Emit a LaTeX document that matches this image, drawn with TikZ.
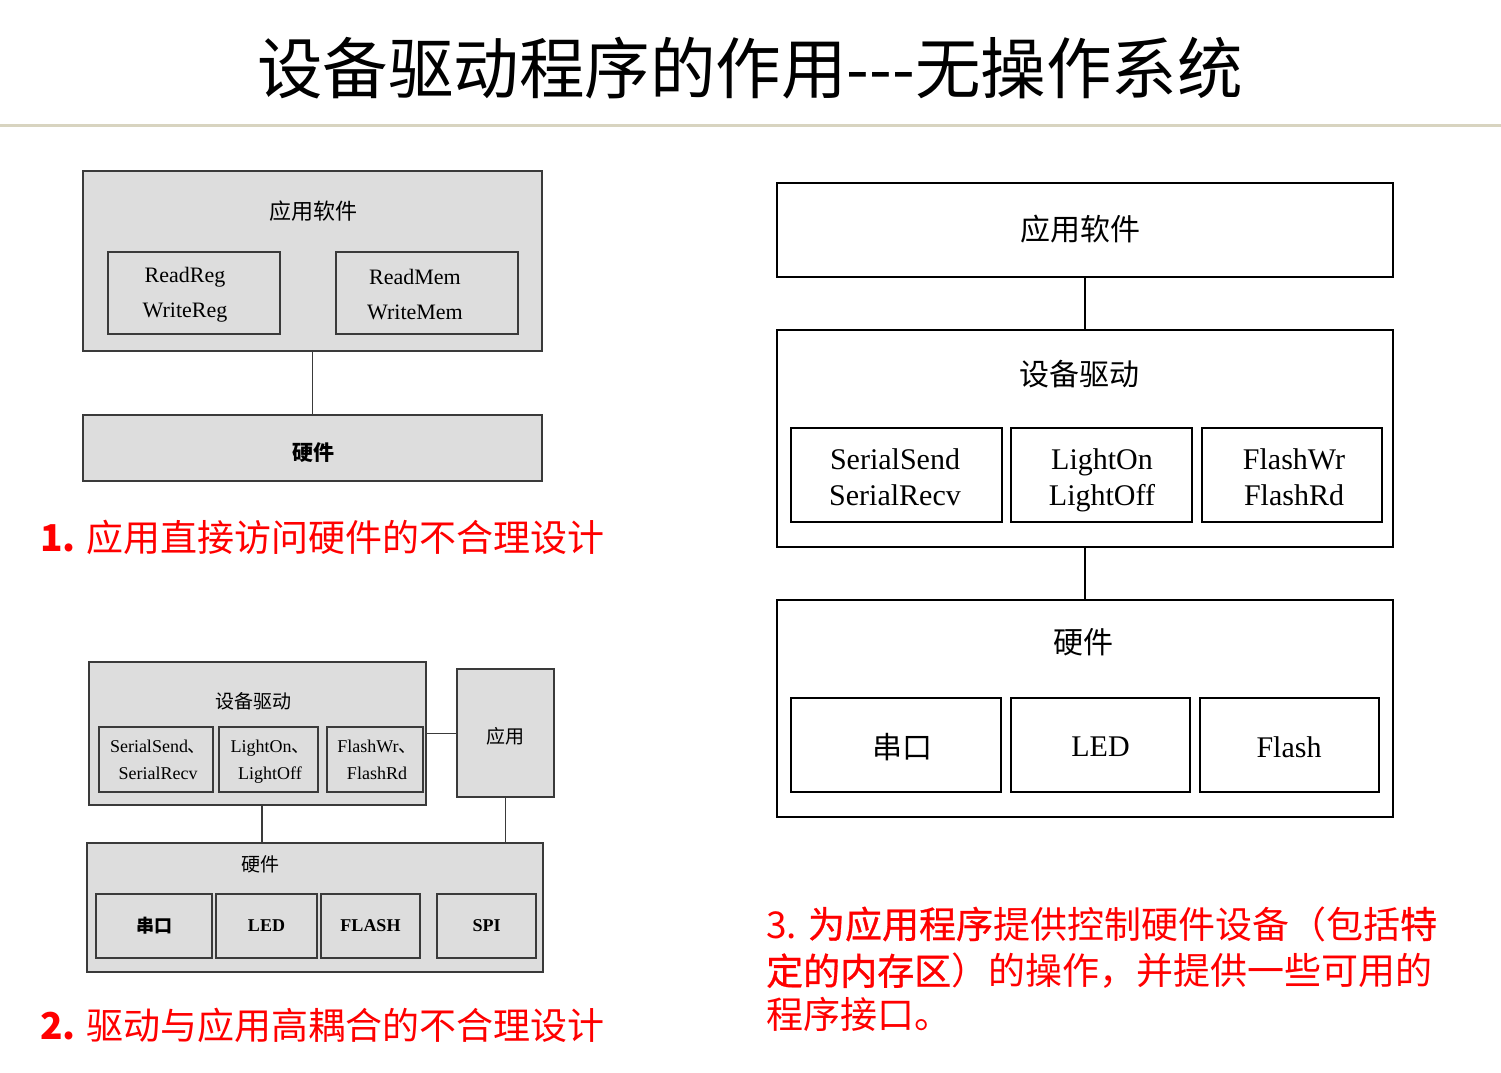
\documentclass[tikz,border=0pt]{standalone}
\usepackage{graphicx}
\usepackage{fontspec}
\setmainfont{Liberation Serif}
\newfontfamily\cjk{Noto Sans CJK SC}
\newfontfamily\cjkfb[FakeBold=0.8]{Noto Sans CJK SC}
\definecolor{boxgray}{HTML}{DDDDDD}
\definecolor{edgegray}{HTML}{3A3A3A}
\definecolor{sepline}{HTML}{D8D4C0}
\definecolor{capred}{HTML}{FF0000}
\tikzset{
  gbox/.style={draw=edgegray, fill=boxgray, line width=1.6pt, inner sep=0pt},
  wbox/.style={draw=black, fill=white, line width=2pt, inner sep=0pt},
  gline/.style={draw=edgegray, line width=1.6pt},
  bline/.style={draw=black, line width=2pt},
  gtxt/.style={text=black, align=center, inner sep=0pt},
  btxt/.style={text=black, align=center, inner sep=0pt},
  captxt/.style={text=capred, anchor=west, inner sep=0pt}
}
\begin{document}
\begin{tikzpicture}[x=1pt,y=-1pt]
\useasboundingbox (0,0) rectangle (1501,1072);
\fill[white] (0,0) rectangle (1501,1072);

% title
\node[inner sep=0pt] (title) at (750,68) {\cjk\fontsize{58}{60}\selectfont\scalebox{1.13}[1.15]{设备驱动程序的作用---无操作系统}};
\coordinate (sepL) at (0,125);
\coordinate (sepR) at (1501,125);
\draw[sepline, line width=3pt] (sepL) -- (sepR);

% ---------- diagram 1 ----------
\node[gbox, minimum width=459pt, minimum height=180pt] (app1) at (312.5,261) {};
\node[gtxt, font=\cjk\fontsize{22}{24}\selectfont] (app1t) at (313,211) {应用软件};
\node[gbox, minimum width=172pt, minimum height=82pt] (rr1) at (194,293) {};
\node[gtxt, font=\fontsize{22}{35}\selectfont] (rr1t) at (185,294.5) {ReadReg\\WriteReg};
\node[gbox, minimum width=182pt, minimum height=82pt] (rm1) at (427,293) {};
\node[gtxt, font=\fontsize{22}{35}\selectfont] (rm1t) at (415,294.5) {ReadMem\\WriteMem};
\node[gbox, minimum width=459pt, minimum height=66pt] (hw1) at (312.5,448) {};
\node[gtxt, font=\cjk\bfseries\fontsize{21}{23}\selectfont] (hw1t) at (313,453) {硬件};
\draw[gline] (app1.south) -- (hw1.north);

% ---------- diagram 2 ----------
\node[gbox, minimum width=337pt, minimum height=143pt] (drv2) at (257.5,733.5) {};
\node[gtxt, font=\cjk\fontsize{19}{21}\selectfont] (drv2t) at (253,701) {设备驱动};
\node[gbox, minimum width=114pt, minimum height=65pt] (s2a) at (156,759.5) {};
\node[gtxt, font=\fontsize{18}{27}\selectfont] (s2at) at (158,759.5) {SerialSend{\cjk 、}\\SerialRecv};
\node[gbox, minimum width=99pt, minimum height=65pt] (s2b) at (268.5,759.5) {};
\node[gtxt, font=\fontsize{18}{27}\selectfont] (s2bt) at (270,761.5) {LightOn{\cjk 、}\\LightOff};
\node[gbox, minimum width=96pt, minimum height=65pt] (s2c) at (375,759.5) {};
\node[gtxt, font=\fontsize{18}{27}\selectfont] (s2ct) at (377,759.5) {FlashWr{\cjk 、}\\FlashRd};
\node[gbox, minimum width=97pt, minimum height=128pt] (app2) at (505.5,733) {};
\node[gtxt, font=\cjk\fontsize{19}{21}\selectfont] (app2t) at (505,736) {应用};
\node[gbox, minimum width=456pt, minimum height=129pt] (hw2) at (315,907.5) {};
\node[gtxt, font=\cjk\fontsize{19}{21}\selectfont] (hw2t) at (260,864) {硬件};
\node[gbox, minimum width=116pt, minimum height=64pt] (h2a) at (154,926) {};
\node[gtxt, font=\cjk\bfseries\fontsize{18}{20}\selectfont] (h2at) at (154,926) {串口};
\node[gbox, minimum width=101pt, minimum height=64pt] (h2b) at (266.5,926) {};
\node[gtxt, font=\bfseries\fontsize{18}{20}\selectfont] (h2bt) at (266.5,926) {LED};
\node[gbox, minimum width=99pt, minimum height=64pt] (h2c) at (370.5,926) {};
\node[gtxt, font=\bfseries\fontsize{18}{20}\selectfont] (h2ct) at (370.5,926) {FLASH};
\node[gbox, minimum width=99pt, minimum height=64pt] (h2d) at (486.5,926) {};
\node[gtxt, font=\bfseries\fontsize{18}{20}\selectfont] (h2dt) at (486.5,926) {SPI};
\draw[gline] (drv2.east) -- (drv2.east -| app2.west);
\draw[gline] ([xshift=4.5pt]drv2.south) -- ([xshift=4.5pt]drv2.south |- hw2.north);
\draw[gline] (app2.south) -- (app2.south |- hw2.north);

% ---------- diagram 3 ----------
\node[wbox, minimum width=616pt, minimum height=94pt] (app3) at (1085,230) {};
\node[btxt, font=\cjk\fontsize{30}{32}\selectfont] (app3t) at (1080,229) {应用软件};
\node[wbox, minimum width=616pt, minimum height=217pt] (drv3) at (1085,438.5) {};
\node[btxt, font=\cjk\fontsize{30}{32}\selectfont] (drv3t) at (1079,374) {设备驱动};
\node[wbox, minimum width=211pt, minimum height=94pt] (s3a) at (896.5,475) {};
\node[btxt, font=\fontsize{30}{36}\selectfont] (s3at) at (895,477) {SerialSend\\SerialRecv};
\node[wbox, minimum width=181pt, minimum height=94pt] (s3b) at (1101.5,475) {};
\node[btxt, font=\fontsize{30}{36}\selectfont] (s3bt) at (1102,480) {LightOn\\LightOff};
\node[wbox, minimum width=180pt, minimum height=94pt] (s3c) at (1292,475) {};
\node[btxt, font=\fontsize{30}{36}\selectfont] (s3ct) at (1294,477) {FlashWr\\FlashRd};
\node[wbox, minimum width=616pt, minimum height=217pt] (hw3) at (1085,708.5) {};
\node[btxt, font=\cjk\fontsize{30}{32}\selectfont] (hw3t) at (1083,642) {硬件};
\node[wbox, minimum width=210pt, minimum height=94pt] (h3a) at (896,745) {};
\node[btxt, font=\cjk\fontsize{30}{32}\selectfont] (h3at) at (902,747) {串口};
\node[wbox, minimum width=179pt, minimum height=94pt] (h3b) at (1100.5,745) {};
\node[btxt, font=\fontsize{30}{32}\selectfont] (h3bt) at (1100.5,747) {LED};
\node[wbox, minimum width=179pt, minimum height=94pt] (h3c) at (1289.5,745) {};
\node[btxt, font=\fontsize{30}{32}\selectfont] (h3ct) at (1289,747) {Flash};
\draw[bline] (app3.south) -- (drv3.north);
\draw[bline] (drv3.south) -- (hw3.north);

% ---------- captions ----------
\node[captxt, font=\cjk\fontsize{37}{40}\selectfont] (cap1) at (40,537) {\textbf{1.} 应用直接访问硬件的不合理设计};
\node[captxt, font=\cjk\fontsize{37}{40}\selectfont] (cap2) at (40,1025) {\textbf{2.} 驱动与应用高耦合的不合理设计};
\node[captxt, font=\cjk\fontsize{37}{40}\selectfont] (cap3a) at (766,924) {3. {\cjkfb 为应用程序}提供控制硬件设备（包括{\cjkfb 特}};
\node[captxt, font=\cjk\fontsize{37}{40}\selectfont] (cap3b) at (766,971) {{\cjkfb 定的内存区}）的操作，并提供一些可用的};
\node[captxt, font=\cjk\fontsize{37}{40}\selectfont] (cap3c) at (766,1014) {程序接口。};
\end{tikzpicture}
\end{document}
